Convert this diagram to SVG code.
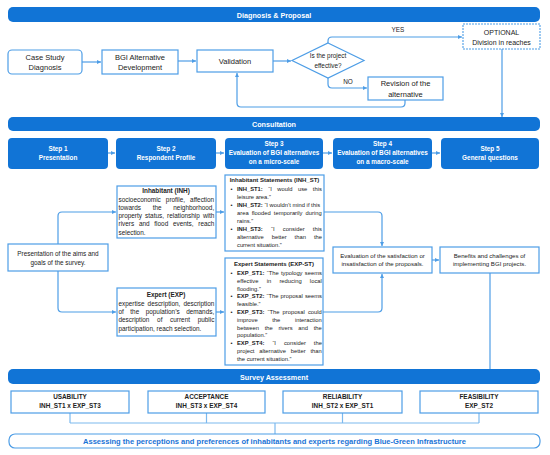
<svg xmlns="http://www.w3.org/2000/svg" width="550" height="455" viewBox="0 0 550 455">
<defs>
<style>
text{font-family:"Liberation Sans",Arial,sans-serif;fill:#222;}
.bar{fill:#1174d6;}
.bt{fill:#fff;font-size:7.2px;font-weight:bold;text-anchor:middle;}
.step{fill:#1174d6;}
.st{fill:#fff;font-size:6.4px;font-weight:bold;text-anchor:middle;}
.box{fill:#fff;stroke:#4d9de6;stroke-width:1.2;}
.t1{font-size:7.5px;text-anchor:middle;}
.t2{font-size:6.4px;text-anchor:middle;}
.tb{font-size:6.4px;font-weight:bold;text-anchor:middle;}
.j{font-size:6.4px;}
.s{font-size:5.8px;}
.b{font-weight:bold;}
.c{fill:none;stroke:#4d9de6;stroke-width:1.2;}
.cl{fill:none;stroke:#7cb9ee;stroke-width:1.2;}
.fin{font-size:7px;font-weight:bold;fill:#1a73d6;text-anchor:middle;}
</style>
<marker id="ah" markerWidth="6" markerHeight="6" refX="5" refY="3" orient="auto" markerUnits="userSpaceOnUse">
<path d="M1,1 L5,3 L1,5 z" fill="#4d9de6"/>
</marker>
</defs>
<rect width="550" height="455" fill="#fff"/>

<g id="connectors">
<path class="c" d="M82,62 H101" marker-end="url(#ah)"/>
<path class="c" d="M178,61 H196" marker-end="url(#ah)"/>
<path class="c" d="M273,61 H291" marker-end="url(#ah)"/>
<path class="c" d="M328,43 V41 Q328,37 332,37 H462" marker-end="url(#ah)"/>
<path class="c" d="M328,78 V84 Q328,88 332,88 H367" marker-end="url(#ah)"/>
<path class="c" d="M405,100 V103 Q405,107 401,107 H241 Q237,107 237,103 V73" marker-end="url(#ah)"/>
<path class="c" d="M502,49 V117" marker-end="url(#ah)"/>
<path class="c" d="M108,153 H115" marker-end="url(#ah)"/>
<path class="c" d="M216,153 H224" marker-end="url(#ah)"/>
<path class="c" d="M323,153 H332" marker-end="url(#ah)"/>
<path class="c" d="M432,153 H440" marker-end="url(#ah)"/>
<path class="c" d="M58,244 V216 Q58,212 62,212 H116" marker-end="url(#ah)"/>
<path class="c" d="M58,271 V308 Q58,312 62,312 H116" marker-end="url(#ah)"/>
<path class="c" d="M216,212 H224" marker-end="url(#ah)"/>
<path class="c" d="M216,312 H224" marker-end="url(#ah)"/>
<path class="c" d="M324,212 H378 Q382,212 382,216 V246" marker-end="url(#ah)"/>
<path class="c" d="M323,312 H378 Q382,312 382,308 V274" marker-end="url(#ah)"/>
<path class="c" d="M432,260 H439" marker-end="url(#ah)"/>
<path class="c" d="M490,273 V369"/>
<path class="cl" d="M70,413 V423 M206.5,413 V423 M342.5,413 V423 M479,413 V423 M70,423 H479 M275,423 V434"/>
</g>

<g id="bar-diagnosis">
<rect class="bar" x="8" y="7" width="532" height="15" rx="5"/>
<text class="bt" x="274" y="17.5">Diagnosis &amp; Proposal</text>
</g>

<g id="case-study">
<rect class="box" x="8" y="50" width="74" height="24" rx="4"/>
<text class="t1" x="45" y="59.7">Case Study</text>
<text class="t1" x="45" y="69.7">Diagnosis</text>
</g>
<g id="bgi-alt">
<rect class="box" x="102" y="50" width="76" height="24"/>
<text class="t1" x="140" y="59.7">BGI Alternative</text>
<text class="t1" x="140" y="69.7">Development</text>
</g>
<g id="validation">
<rect class="box" x="197" y="50" width="76" height="22"/>
<text class="t1" x="235" y="63.7">Validation</text>
</g>
<g id="decision">
<path class="box" d="M328,43 L364,60.5 L328,78 L292,60.5 Z"/>
<text class="t2" x="328" y="57.5">Is the project</text>
<text class="t2" x="328" y="67.5">effective?</text>
</g>
<g id="labels">
<text class="t2" x="398" y="31.5">YES</text>
<text class="t2" x="348" y="83.5">NO</text>
</g>
<g id="optional">
<rect x="463" y="24" width="77" height="25" fill="#fff" stroke="#4d9de6" stroke-width="1.1" stroke-dasharray="2 1"/>
<text class="t1" x="501.5" y="34.5" style="font-size:7px">OPTIONAL</text>
<text class="t1" x="501.5" y="44.5" style="font-size:7px">Division in reaches</text>
</g>
<g id="revision">
<rect class="box" x="368" y="77" width="75" height="23"/>
<text class="t1" x="405.5" y="85.7">Revision of the</text>
<text class="t1" x="405.5" y="96.7">alternative</text>
</g>

<g id="bar-consultation">
<rect class="bar" x="8" y="117" width="532" height="14" rx="5"/>
<text class="bt" x="274" y="126.5">Consultation</text>
</g>

<g id="step1">
<rect class="step" x="8" y="138" width="100" height="31" rx="4"/>
<text class="st" x="58" y="151.3">Step 1</text>
<text class="st" x="58" y="160.3">Presentation</text>
</g>
<g id="step2">
<rect class="step" x="116" y="138" width="100" height="31" rx="4"/>
<text class="st" x="166" y="151.3">Step 2</text>
<text class="st" x="166" y="160.3">Respondent Profile</text>
</g>
<g id="step3">
<rect class="step" x="225" y="138" width="98" height="31" rx="4"/>
<text class="st" x="274" y="146.3">Step 3</text>
<text class="st" x="274" y="155.3">Evaluation of BGI alternatives</text>
<text class="st" x="274" y="164.3">on a micro-scale</text>
</g>
<g id="step4">
<rect class="step" x="333" y="138" width="99" height="31" rx="4"/>
<text class="st" x="382.5" y="146.3">Step 4</text>
<text class="st" x="382.5" y="155.3">Evaluation of BGI alternatives</text>
<text class="st" x="382.5" y="164.3">on a macro-scale</text>
</g>
<g id="step5">
<rect class="step" x="441" y="138" width="98" height="31" rx="4"/>
<text class="st" x="490" y="151.3">Step 5</text>
<text class="st" x="490" y="160.3">General questions</text>
</g>

<g id="presentation">
<rect class="box" x="8" y="244" width="100" height="27"/>
<text class="t2" x="58" y="256.3">Presentation of the aims and</text>
<text class="t2" x="58" y="265.3">goals of the survey.</text>
</g>

<g id="inhabitant">
<rect class="box" x="117" y="186" width="99" height="52"/>
<text class="tb" x="166" y="193">Inhabitant (INH)</text>
<text class="j" x="118.5" y="201.5" style="word-spacing:3.3px">socioeconomic profile, affection</text>
<text class="j" x="118.5" y="209.8" style="word-spacing:10px">towards the neighborhood,</text>
<text class="j" x="118.5" y="218.1" style="word-spacing:1.4px">property status, relationship with</text>
<text class="j" x="118.5" y="226.4" style="word-spacing:3px">rivers and flood events, reach</text>
<text class="j" x="118.5" y="234.7">selection.</text>
</g>

<g id="expert">
<rect class="box" x="117" y="288" width="99" height="48"/>
<text class="tb" x="166" y="297">Expert (EXP)</text>
<text class="j" x="118.5" y="306" style="word-spacing:1.4px">expertise description, description</text>
<text class="j" x="118.5" y="314.2" style="word-spacing:4.7px">of the population’s demands,</text>
<text class="j" x="118.5" y="322.4" style="word-spacing:5.9px">description of current public</text>
<text class="j" x="118.5" y="330.6">participation, reach selection.</text>
</g>

<g id="inh-statements">
<rect class="box" x="225" y="175" width="99" height="76"/>
<text class="tb" x="274.5" y="182" style="font-size:6px">Inhabitant Statements (INH_ST)</text>
<text class="s" x="230.5" y="190.5">•</text>
<text class="s" x="237" y="190.5" style="word-spacing:3.9px"><tspan class="b">INH_ST1:</tspan> “I would use this</text>
<text class="s" x="237" y="198.5">leisure area.”</text>
<text class="s" x="230.5" y="206.5">•</text>
<text class="s" x="237" y="206.5"><tspan class="b">INH_ST2:</tspan> “I wouldn’t mind if this</text>
<text class="s" x="237" y="214.5" style="word-spacing:1.5px">area flooded temporarily during</text>
<text class="s" x="237" y="222.5">rains.”</text>
<text class="s" x="230.5" y="230.5">•</text>
<text class="s" x="237" y="230.5" style="word-spacing:6.6px"><tspan class="b">INH_ST3:</tspan> “I consider this</text>
<text class="s" x="237" y="238.5" style="word-spacing:6.4px">alternative better than the</text>
<text class="s" x="237" y="246.5">current situation.”</text>
</g>

<g id="exp-statements">
<rect class="box" x="225" y="258" width="98" height="107"/>
<text class="tb" x="274" y="266" style="font-size:6px">Expert Statements (EXP-ST)</text>
<text class="s" x="230.5" y="275">•</text>
<text class="s" x="237" y="275" style="word-spacing:0.7px"><tspan class="b">EXP_ST1:</tspan> “The typology seems</text>
<text class="s" x="237" y="282.8" style="word-spacing:6.6px">effective in reducing local</text>
<text class="s" x="237" y="290.6">flooding.”</text>
<text class="s" x="230.5" y="298.4">•</text>
<text class="s" x="237" y="298.4" style="word-spacing:0.5px"><tspan class="b">EXP_ST2:</tspan> “The proposal seems</text>
<text class="s" x="237" y="306.2">feasible.”</text>
<text class="s" x="230.5" y="314">•</text>
<text class="s" x="237" y="314" style="word-spacing:1.5px"><tspan class="b">EXP_ST3:</tspan> “The proposal could</text>
<text class="s" x="237" y="321.8" style="word-spacing:13px">improve the interaction</text>
<text class="s" x="237" y="329.6" style="word-spacing:4.1px">between the rivers and the</text>
<text class="s" x="237" y="337.4">population.”</text>
<text class="s" x="230.5" y="345.2">•</text>
<text class="s" x="237" y="345.2" style="word-spacing:6.4px"><tspan class="b">EXP_ST4:</tspan> “I consider the</text>
<text class="s" x="237" y="353" style="word-spacing:3.2px">project alternative better than</text>
<text class="s" x="237" y="360.8">the current situation.”</text>
</g>

<g id="evaluation">
<rect class="box" x="333" y="247" width="99" height="26"/>
<text class="t2" x="382.5" y="258.3" style="font-size:6.1px">Evaluation of the satisfaction or</text>
<text class="t2" x="382.5" y="266.3" style="font-size:6.1px">insatisfaction of the proposals.</text>
</g>
<g id="benefits">
<rect class="box" x="440" y="247" width="99" height="26"/>
<text class="t2" x="489.5" y="258.3" style="font-size:6.1px">Benefits and challenges of</text>
<text class="t2" x="489.5" y="266.3" style="font-size:6.1px">implementing BGI projects.</text>
</g>

<g id="bar-survey">
<rect class="bar" x="8" y="369" width="532" height="15" rx="5"/>
<text class="bt" x="274" y="379.5">Survey Assessment</text>
</g>

<g id="usability">
<rect class="box" x="11" y="391" width="118" height="22"/>
<text class="tb" x="70" y="399.3">USABILITY</text>
<text class="tb" x="70" y="408.3">INH_ST1 x EXP_ST3</text>
</g>
<g id="acceptance">
<rect class="box" x="148" y="391" width="117" height="22"/>
<text class="tb" x="206.5" y="399.3">ACCEPTANCE</text>
<text class="tb" x="206.5" y="408.3">INH_ST3 x EXP_ST4</text>
</g>
<g id="reliability">
<rect class="box" x="283" y="391" width="119" height="22"/>
<text class="tb" x="342.5" y="399.3">RELIABILITY</text>
<text class="tb" x="342.5" y="408.3">INH_ST2 x EXP_ST1</text>
</g>
<g id="feasibility">
<rect class="box" x="420" y="391" width="118" height="22"/>
<text class="tb" x="479" y="399.3">FEASIBILITY</text>
<text class="tb" x="479" y="408.3">EXP_ST2</text>
</g>

<g id="conclusion">
<rect class="box" x="9" y="434" width="531" height="14" rx="6"/>
<text class="fin" x="274.5" y="443.5" textLength="383" lengthAdjust="spacingAndGlyphs">Assessing the perceptions and preferences of inhabitants and experts regarding Blue-Green Infrastructure</text>
</g>
</svg>
